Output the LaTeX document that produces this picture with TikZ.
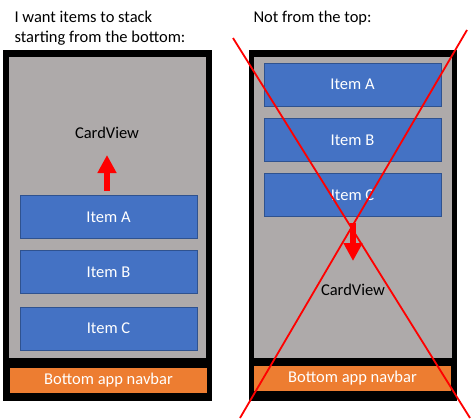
\documentclass[tikz,border=0pt]{standalone}
\usepackage{fontspec}
\setmainfont{Carlito}
\usetikzlibrary{arrows.meta}
\definecolor{cardgrey}{HTML}{AEAAAA}
\definecolor{itemblue}{HTML}{4472C4}
\definecolor{itemedge}{HTML}{2F528F}
\definecolor{navorange}{HTML}{ED7D31}

\begin{document}
\begin{tikzpicture}[x=1pt, y=-1pt, font=\fontsize{16.5}{20}\selectfont,
	item/.style={draw=itemedge, line width=0.8pt, fill=itemblue, text=white,
		minimum width=177pt, minimum height=43pt, inner sep=0pt},
	navbar/.style={fill=navorange, text=white, minimum width=197pt,
		minimum height=25pt, inner sep=0pt},
	push/.style={red, line width=6pt, -{Triangle[width=18pt,length=18pt]}},
	cross/.style={red, line width=1.8pt}]

\useasboundingbox (0,0) rectangle (474,418);

% titles
\node[anchor=base west] (titleA) at (11,22) {I want items to stack};
\node[anchor=base west] (titleB) at (11,42) {starting from the bottom:};
\node[anchor=base west] (titleC) at (250,22) {Not from the top:};

% left phone
\fill[black] (3,50) rectangle (212,401);
\fill[cardgrey] (9,57) rectangle (206,358);
\node (cardL) at (107,133) {CardView};
\node[item] (itemLA) at (108.5,217) {Item A};
\node[item] (itemLB) at (108.5,272) {Item B};
\node[item] (itemLC) at (108.5,328.5) {Item C};
\node[navbar] (navL) at (108.5,380.5) {Bottom app navbar};

\coordinate (upS) at (107,191);
\coordinate (upE) at (107,155);
\draw[push] (upS) -- (upE);

% right phone
\fill[black] (249,50) rectangle (457,401);
\fill[cardgrey] (254,57) rectangle (452,358);
\node[item] (itemRA) at (352.5,84.5) {Item A};
\node[item] (itemRB) at (352.5,140) {Item B};
\node[item] (itemRC) at (352.5,195) {Item C};
\node (cardR) at (353,290) {CardView};
\node[navbar] (navR) at (352.5,378.5) {Bottom app navbar};

\coordinate (downS) at (353,223);
\coordinate (downE) at (353,261);
\draw[push] (downS) -- (downE);

% the big X
\coordinate (xA) at (233,38);
\coordinate (xB) at (470,418);
\coordinate (xC) at (467,30);
\coordinate (xD) at (240,418);
\draw[cross] (xA) -- (xB);
\draw[cross] (xC) -- (xD);

\end{tikzpicture}
\end{document}
